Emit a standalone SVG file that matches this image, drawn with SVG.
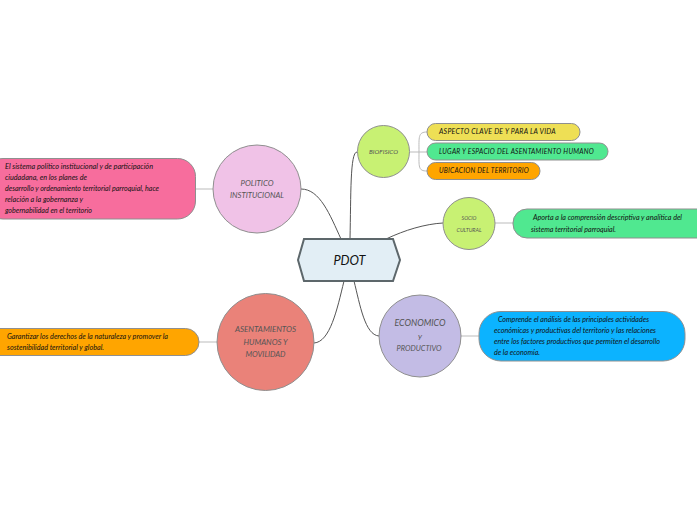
<svg xmlns="http://www.w3.org/2000/svg" width="697" height="520" viewBox="0 0 697 520">
<style>
text{font-family:"Lato","Liberation Sans",sans-serif;font-style:italic;fill:#222}
.n{stroke:#8f8f8f;stroke-width:1}
.c{fill:none;stroke:#555;stroke-width:1}
.s{fill:none;stroke:#bbb;stroke-width:1}
.p{font-size:8px;fill:#111}
.u{font-size:8px;fill:#111;letter-spacing:.3px}
.t{fill:#555;text-anchor:middle}
</style>
<rect width="697" height="520" fill="#fff"/>
<g id="connectors">
<path class="c" d="M350 239C351 195 350 152 357 152"/>
<path class="c" d="M341 239C330 215 320 189 301 189"/>
<path class="c" d="M386 239C405 230 425 224 443 223"/>
<path class="c" d="M344 281C337 310 330 342 314 343"/>
<path class="c" d="M354 281C360 305 365 335 379 336"/>
<path class="s" d="M410 152H427M427 132C418 132 419 137 419 152C419 167 418 171 427 171"/>
<path class="s" d="M495 223H513M461 336H479M196 189H213M199 342H217"/>
</g>
<g id="root"><path d="M304 239H393L400 260L393 281H304L298 260Z" fill="#e2eef5" stroke="#5d676b" stroke-width="2"/><text x="349.500" y="265" font-size="14" text-anchor="middle" textLength="32" lengthAdjust="spacingAndGlyphs" style="fill:#111">PDOT</text></g>
<g id="biofisico"><circle class="n" cx="383.500" cy="151.500" r="26" fill="#c8f173"/><text class="t" x="383.500" y="154" font-size="5.500" textLength="29" lengthAdjust="spacingAndGlyphs">BIOFISICO</text></g>
<g id="aspecto"><rect class="n" x="427" y="123.500" width="153" height="17" rx="8.500" fill="#eedf55"/><text class="u" x="439" y="134" textLength="117" lengthAdjust="spacingAndGlyphs">ASPECTO CLAVE DE Y PARA LA VIDA</text></g>
<g id="lugar"><rect class="n" x="427" y="143" width="181" height="17" rx="8.500" fill="#50e890"/><text class="u" x="439" y="154" textLength="155" lengthAdjust="spacingAndGlyphs">LUGAR Y ESPACIO DEL ASENTAMIENTO HUMANO</text></g>
<g id="ubicacion"><rect class="n" x="427" y="162.500" width="113" height="17" rx="8.500" fill="#ffa500"/><text class="u" x="439" y="173" textLength="90" lengthAdjust="spacingAndGlyphs">UBICACION DEL TERRITORIO</text></g>
<g id="socio"><circle class="n" cx="469" cy="223.500" r="26" fill="#c8f173"/><text class="t" x="469" y="220" font-size="5.500" textLength="15" lengthAdjust="spacingAndGlyphs">SOCIO</text><text class="t" x="469" y="232" font-size="5.500" textLength="25" lengthAdjust="spacingAndGlyphs">CULTURAL</text></g>
<g id="socio-text"><rect class="n" x="513" y="209" width="200" height="29" rx="14" fill="#50e890"/><text class="p" x="533" y="220" textLength="149" lengthAdjust="spacingAndGlyphs">Aporta a la comprensión descriptiva y analítica del</text><text class="p" x="531" y="232" textLength="85" lengthAdjust="spacingAndGlyphs">sistema territorial parroquial.</text></g>
<g id="politico"><circle class="n" cx="257" cy="189" r="44" fill="#f0c2e7"/><text class="t" x="257" y="186" font-size="8.500" textLength="33" lengthAdjust="spacingAndGlyphs">POLITICO</text><text class="t" x="257" y="198" font-size="8.500" textLength="54" lengthAdjust="spacingAndGlyphs">INSTITUCIONAL</text></g>
<g id="politico-text"><rect class="n" x="-15" y="158.500" width="210.500" height="60.500" rx="18" fill="#f76d9d"/>
<text class="p" x="5" y="169" textLength="148" lengthAdjust="spacingAndGlyphs">El sistema político institucional y de participación</text>
<text class="p" x="5" y="180" textLength="82" lengthAdjust="spacingAndGlyphs">ciudadana, en los planes de</text>
<text class="p" x="5" y="191" textLength="154" lengthAdjust="spacingAndGlyphs">desarrollo y ordenamiento territorial parroquial, hace</text>
<text class="p" x="5" y="202" textLength="78" lengthAdjust="spacingAndGlyphs">relación a la gobernanza y</text>
<text class="p" x="5" y="213" textLength="87" lengthAdjust="spacingAndGlyphs">gobernabilidad en el territorio</text></g>
<g id="asentamientos"><circle class="n" cx="265.500" cy="342" r="48.500" fill="#ea8279"/><text class="t" x="265.500" y="332" font-size="8.500" textLength="61" lengthAdjust="spacingAndGlyphs">ASENTAMIENTOS</text><text class="t" x="265.500" y="345" font-size="8.500" textLength="44" lengthAdjust="spacingAndGlyphs">HUMANOS Y</text><text class="t" x="265.500" y="357" font-size="8.500" textLength="40" lengthAdjust="spacingAndGlyphs">MOVILIDAD</text></g>
<g id="asentamientos-text"><rect class="n" x="-20" y="328.500" width="219" height="27" rx="13.500" fill="#ffa500"/>
<text class="p" x="7" y="339" textLength="161" lengthAdjust="spacingAndGlyphs">Garantizar los derechos de la naturaleza y promover la</text>
<text class="p" x="7" y="350" textLength="97" lengthAdjust="spacingAndGlyphs">sostenibilidad territorial y global.</text></g>
<g id="economico"><circle class="n" cx="420" cy="336" r="41" fill="#c3bce5"/><text class="t" x="420" y="326" font-size="10" textLength="51" lengthAdjust="spacingAndGlyphs">ECONOMICO</text><text class="t" x="420" y="339" font-size="8.500">y</text><text class="t" x="419" y="351" font-size="8" textLength="45" lengthAdjust="spacingAndGlyphs">PRODUCTIVO</text></g>
<g id="economico-text"><rect class="n" x="479" y="311.500" width="206" height="49.500" rx="22" fill="#0cb3ff"/>
<text class="p" x="498" y="322" textLength="151" lengthAdjust="spacingAndGlyphs">Comprende el análisis de las principales actividades</text>
<text class="p" x="494" y="333" textLength="162" lengthAdjust="spacingAndGlyphs">económicas y productivas del territorio y las relaciones</text>
<text class="p" x="494" y="344" textLength="166" lengthAdjust="spacingAndGlyphs">entre los factores productivos que permiten el desarrollo</text>
<text class="p" x="494" y="355" textLength="46" lengthAdjust="spacingAndGlyphs">de la economía.</text></g>
</svg>
